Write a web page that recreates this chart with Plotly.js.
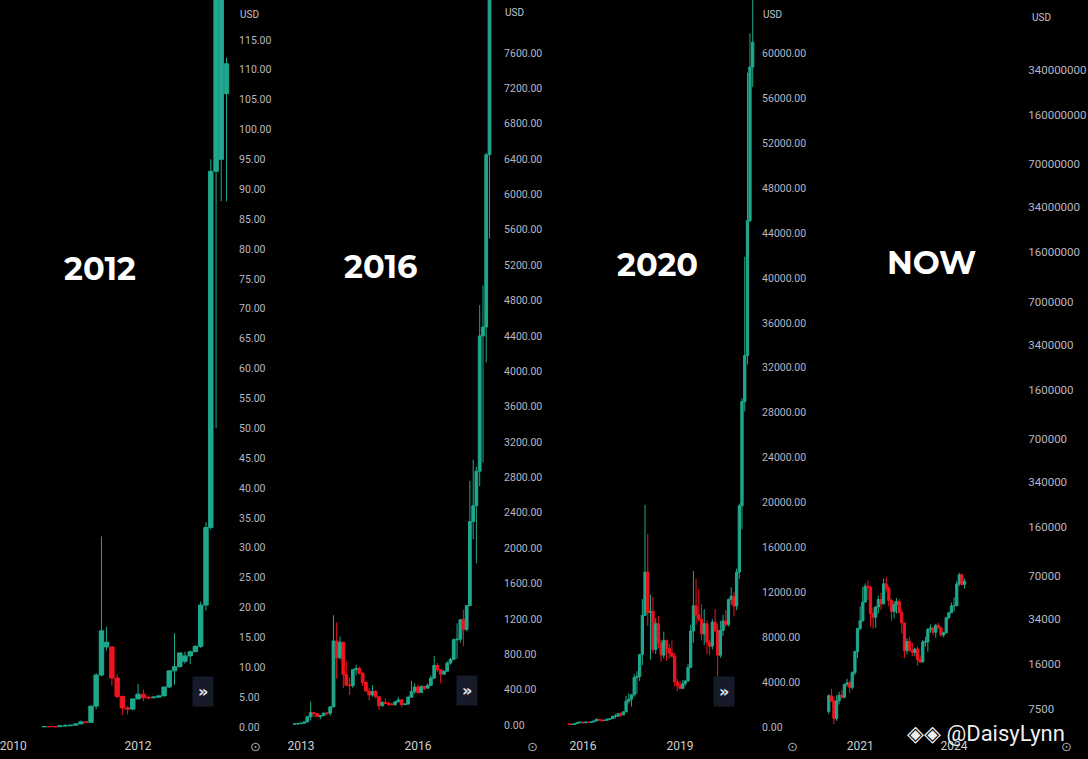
<!DOCTYPE html>
<html>
<head>
<meta charset="utf-8">
<script src="https://cdn.plot.ly/plotly-3.0.1.min.js"></script>
<style>
html,body{margin:0;padding:0;background:#000;}
#chart{width:1088px;height:759px;}
</style>
</head>
<body>
<div id="chart"></div>
<script>
// ---------- DATA ----------
// Panel 1: "2012" cycle (monthly candles, USD)
const dates1 = ["2010-07-01","2010-08-01","2010-09-01","2010-10-01","2010-11-01","2010-12-01",
"2011-01-01","2011-02-01","2011-03-01","2011-04-01","2011-05-01","2011-06-01","2011-07-01","2011-08-01","2011-09-01","2011-10-01","2011-11-01","2011-12-01",
"2012-01-01","2012-02-01","2012-03-01","2012-04-01","2012-05-01","2012-06-01","2012-07-01","2012-08-01","2012-09-01","2012-10-01","2012-11-01","2012-12-01",
"2013-01-01","2013-02-01","2013-03-01","2013-04-01","2013-05-01","2013-06-01"];
const open1  = [0.05,0.07,0.06,0.06,0.19,0.21, 0.30,0.52,0.86,0.78,3.5,8.7,13.4,13.4,8.2,5.1,3.2,3.0, 4.7,5.5,4.9,4.9,5.0,5.2,6.7,9.4,10.1,11.0,11.9,12.6, 13.5,20.4,33.4,93,95,106];
const high1  = [0.09,0.07,0.07,0.20,0.50,0.30, 0.52,1.10,0.95,3.5,9.0,31.9,16.8,13.5,8.8,5.3,3.5,4.8, 7.2,6.3,5.3,5.2,5.2,6.7,9.5,15.7,12.5,12.6,12.8,13.7, 21.0,34.3,95,266,140,112];
const low1   = [0.05,0.06,0.06,0.06,0.19,0.20, 0.30,0.52,0.70,0.75,3.0,8.5,12.8,6.9,4.8,2.0,2.1,2.8, 4.7,4.3,4.6,4.8,4.9,5.2,6.5,7.1,10.0,10.6,10.5,12.6, 13.2,19.5,33.0,50,88,88];
const close1 = [0.07,0.06,0.06,0.19,0.21,0.30, 0.52,0.86,0.78,3.5,8.7,16.1,14.2,8.2,5.1,3.2,3.0,4.7, 5.5,4.9,4.9,5.0,5.2,6.7,9.4,10.1,12.4,11.9,12.6,13.5, 20.4,33.4,93,139,129,111];
const xTicks1 = ["2010-01-01","2012-01-01"];
const xLabels1 = ["2010","2012"];
const yTicks1 = [0,5,10,15,20,25,30,35,40,45,50,55,60,65,70,75,80,85,90,95,100,105,110,115];

// Panel 2: "2016" cycle
const dates2 = ["2012-11-01","2012-12-01",
"2013-01-01","2013-02-01","2013-03-01","2013-04-01","2013-05-01","2013-06-01","2013-07-01","2013-08-01","2013-09-01","2013-10-01","2013-11-01","2013-12-01",
"2014-01-01","2014-02-01","2014-03-01","2014-04-01","2014-05-01","2014-06-01","2014-07-01","2014-08-01","2014-09-01","2014-10-01","2014-11-01","2014-12-01",
"2015-01-01","2015-02-01","2015-03-01","2015-04-01","2015-05-01","2015-06-01","2015-07-01","2015-08-01","2015-09-01","2015-10-01","2015-11-01","2015-12-01",
"2016-01-01","2016-02-01","2016-03-01","2016-04-01","2016-05-01","2016-06-01","2016-07-01","2016-08-01","2016-09-01","2016-10-01","2016-11-01","2016-12-01",
"2017-01-01","2017-02-01","2017-03-01","2017-04-01","2017-05-01","2017-06-01","2017-07-01","2017-08-01","2017-09-01","2017-10-01","2017-11-01"];
const open2  = [11,12.5, 13.5,20.4,33.4,93,139,129,97,106,135,133,204,950, 760,935,570,450,445,627,640,585,480,385,340,378, 320,217,254,244,236,230,263,284,230,236,314,377, 430,368,437,416,448,531,673,624,575,609,700,742, 963,970,1190,1080,1350,2300,2480,2870,4400,4500,6450];
const high2  = [12.6,13.7, 21,34,95,266,140,130,110,135,145,215,1240,1160, 1000,940,720,540,630,680,660,600,500,420,450,400, 320,270,300,260,248,270,318,285,245,330,500,470, 460,445,440,470,560,780,700,630,615,720,760,980, 1150,1200,1300,1350,2760,3000,2920,4750,4970,6470,11400];
const low2   = [10.5,12.6, 13.2,19.5,33,50,85,88,65,102,110,105,200,520, 740,420,440,340,420,560,570,440,370,280,320,300, 170,210,235,215,228,218,255,200,225,236,310,350, 350,365,395,414,440,520,600,470,570,604,680,740, 750,930,890,1060,1340,2100,1830,2700,2970,4100,5500];
const close2 = [12.5,13.5, 20.4,33.4,93,139,129,97,106,135,133,204,950,760, 935,570,450,445,627,640,585,480,385,340,378,320, 217,254,244,236,230,263,284,230,236,314,377,430, 368,437,416,448,531,673,624,575,609,700,742,963, 970,1190,1080,1350,2300,2480,2870,4400,4500,6450,9950];
const xTicks2 = ["2013-01-01","2016-01-01"];
const xLabels2 = ["2013","2016"];
const yTicks2 = [0,400,800,1200,1600,2000,2400,2800,3200,3600,4000,4400,4800,5200,5600,6000,6400,6800,7200,7600];

// Panel 3: "2020" cycle
const dates3 = ["2015-08-01","2015-09-01","2015-10-01","2015-11-01","2015-12-01",
"2016-01-01","2016-02-01","2016-03-01","2016-04-01","2016-05-01","2016-06-01","2016-07-01","2016-08-01","2016-09-01","2016-10-01","2016-11-01","2016-12-01",
"2017-01-01","2017-02-01","2017-03-01","2017-04-01","2017-05-01","2017-06-01","2017-07-01","2017-08-01","2017-09-01","2017-10-01","2017-11-01","2017-12-01",
"2018-01-01","2018-02-01","2018-03-01","2018-04-01","2018-05-01","2018-06-01","2018-07-01","2018-08-01","2018-09-01","2018-10-01","2018-11-01","2018-12-01",
"2019-01-01","2019-02-01","2019-03-01","2019-04-01","2019-05-01","2019-06-01","2019-07-01","2019-08-01","2019-09-01","2019-10-01","2019-11-01","2019-12-01",
"2020-01-01","2020-02-01","2020-03-01","2020-04-01","2020-05-01","2020-06-01","2020-07-01","2020-08-01","2020-09-01","2020-10-01","2020-11-01","2020-12-01",
"2021-01-01","2021-02-01","2021-03-01","2021-04-01"];
const open3  = [284,230,236,314,377, 430,368,437,416,448,531,673,624,575,609,700,742, 963,970,1190,1080,1350,2300,2480,2870,4400,4500,6450,9950,
13800,10200,10300,6900,9200,7500,6400,7700,7000,6600,6300,4000, 3700,3450,3850,4100,5300,8550,10800,10000,9600,8300,9200,7550,
7200,9350,8600,6400,8600,9450,9140,11350,11650,10780,13800,19700, 29000,33100,45100,58800];
const high3  = [285,245,330,500,470, 460,445,440,470,560,780,700,630,615,720,760,980, 1150,1200,1300,1350,2760,3000,2920,4750,4970,6470,11400,19800,
17200,11800,11600,9700,9900,7800,8500,7800,7400,7700,6600,4300, 4100,4200,4150,5600,9100,13900,13200,12300,10950,10500,9500,7750,
9600,10500,9200,9450,10000,10400,11450,12450,12050,14100,19900,29300, 41900,58300,61800,64900];
const low3   = [200,225,236,310,350, 350,365,395,414,440,520,600,470,570,604,680,740, 750,930,890,1060,1340,2100,1830,2700,2970,4100,5500,9900,
9000,6000,6600,6500,7000,5800,6100,5900,6100,6200,3600,3200, 3350,3400,3700,4060,5300,7500,9100,9400,7700,7300,6500,6400,
6900,8450,3800,6150,8100,8900,8950,10900,9850,10400,13200,17600, 28100,32300,45000,57000];
const close3 = [230,236,314,377,430, 368,437,416,448,531,673,624,575,609,700,742,963, 970,1190,1080,1350,2300,2480,2870,4400,4500,6450,9950,13800,
10200,10300,6900,9200,7500,6400,7700,7000,6600,6300,4000,3700, 3450,3850,4100,5300,8550,10800,10000,9600,8300,9200,7550,7200,
9350,8600,6400,8600,9450,9140,11350,11650,10780,13800,19700,29000, 33100,45100,58800,61000];
const xTicks3 = ["2016-01-01","2019-01-01"];
const xLabels3 = ["2016","2019"];
const yTicks3 = [0,4000,8000,12000,16000,20000,24000,28000,32000,36000,40000,44000,48000,52000,56000,60000];

// Panel 4: "NOW" (log scale)
const dates4 = ["2020-01-01","2020-02-01","2020-03-01","2020-04-01","2020-05-01","2020-06-01","2020-07-01","2020-08-01","2020-09-01","2020-10-01","2020-11-01","2020-12-01",
"2021-01-01","2021-02-01","2021-03-01","2021-04-01","2021-05-01","2021-06-01","2021-07-01","2021-08-01","2021-09-01","2021-10-01","2021-11-01","2021-12-01",
"2022-01-01","2022-02-01","2022-03-01","2022-04-01","2022-05-01","2022-06-01","2022-07-01","2022-08-01","2022-09-01","2022-10-01","2022-11-01","2022-12-01",
"2023-01-01","2023-02-01","2023-03-01","2023-04-01","2023-05-01","2023-06-01","2023-07-01","2023-08-01","2023-09-01","2023-10-01","2023-11-01","2023-12-01",
"2024-01-01","2024-02-01","2024-03-01","2024-04-01","2024-05-01"];
const open4  = [7200,9350,8600,6400,8600,9450,9140,11350,11650,10780,13800,19700, 29000,33100,45100,58800,57700,37300,35000,41500,47100,43800,61300,57000,
46300,38500,43200,45500,37700,31800,19900,23300,20000,19400,20500,17200, 16500,23100,23150,28500,29250,27200,30500,29200,25950,26970,34650,37700, 42300,42600,61200,71300,60600];
const high4  = [9600,10500,9200,9450,10000,10400,11450,12450,12050,14100,19900,29300, 41900,58300,61800,64900,59600,41300,42300,50500,52900,67000,69000,59100,
47900,45800,48200,47400,40000,31900,24600,25200,22800,21000,21500,18400, 23900,25200,29200,31000,29800,31400,31800,30200,27500,35200,38400,44700, 48900,64000,73800,72800,67000];
const low4   = [6900,8450,5800,6150,8100,8900,8950,10900,9850,10400,13200,17600, 28100,32300,45000,47000,30000,28800,29300,37300,39600,43300,53300,42000,
32900,34300,37200,37700,26700,17600,18800,19600,18200,18200,15500,16300, 16500,21400,19600,26900,25800,24800,28900,25200,24900,26600,34100,37600, 38500,41900,59000,59600,56500];
const close4 = [9350,8600,6400,8600,9450,9140,11350,11650,10780,13800,19700,29000, 33100,45100,58800,57700,37300,35000,41500,47100,43800,61300,57000,46300,
38500,43200,45500,37700,31800,19900,23300,20000,19400,20500,17200,16500, 23100,23150,28500,29250,27200,30500,29200,25950,26970,34650,37700,42300, 42600,61200,71300,60600,64000];
const xTicks4 = ["2021-01-01","2024-01-01"];
const xLabels4 = ["2021","2024"];
const yTicks4 = [7500,16000,34000,70000,160000,340000,700000,1600000,3400000,7000000,16000000,34000000,70000000,160000000,340000000];

const panelTitles = ["2012","2016","2020","NOW"];
const currency = "USD";
const watermark = "@DaisyLynn";

// ---------- STYLE / LAYOUT ----------
const W = 1088, H = 759;
const GREEN = "#1fa88c", RED = "#f0141e";
const fx = px => px / W;
const fy = py => 1 - py / H;
const yDom = [22 / H, 1];

function candle(x, o, h, l, c, xa, ya) {
  return {
    type: "candlestick", x: x, open: o, high: h, low: l, close: c,
    xaxis: xa, yaxis: ya, hoverinfo: "skip", showlegend: false,
    increasing: {line: {color: GREEN, width: 1}, fillcolor: GREEN},
    decreasing: {line: {color: RED, width: 1}, fillcolor: RED},
    whiskerwidth: 0
  };
}

const traces = [
  candle(dates1, open1, high1, low1, close1, "x", "y"),
  candle(dates2, open2, high2, low2, close2, "x2", "y2"),
  candle(dates3, open3, high3, low3, close3, "x3", "y3"),
  candle(dates4, open4, high4, low4, close4, "x4", "y4")
];

const tickFontY = {family: "Roboto, sans-serif", size: 10.5, color: "#b9b6c2"};
const tickFontX = {family: "Roboto, sans-serif", size: 12, color: "#cfcfcf"};

function xAxis(domainPx, range, tv, tt, anchor) {
  return {
    domain: [fx(domainPx[0]), fx(domainPx[1])], anchor: anchor, type: "date",
    range: range, tickmode: "array", tickvals: tv, ticktext: tt,
    showgrid: false, zeroline: false, showline: false, ticks: "",
    ticklabeloverflow: "allow",
    tickfont: tickFontX, rangeslider: {visible: false}, fixedrange: true
  };
}
function yAxis(range, tv, anchor, fmt, font, type, tl) {
  return {
    domain: yDom, anchor: anchor, side: "right", type: type || "linear",
    range: range, tickmode: "array", tickvals: tv, tickformat: fmt,
    showgrid: false, zeroline: false, showline: false,
    ticks: "outside", ticklen: tl || 4, tickcolor: "rgba(0,0,0,0)",
    ticklabeloverflow: "allow",
    tickfont: font, fixedrange: true
  };
}

const annotations = [];
const titlePos = [[100, 268], [380, 266], [657, 264], [931, 262]];
panelTitles.forEach((t, i) => annotations.push({
  xref: "paper", yref: "paper", x: fx(titlePos[i][0]), y: fy(titlePos[i][1]),
  xanchor: "center", yanchor: "middle", showarrow: false, text: t,
  font: {family: "Montserrat, Inter, Lato, sans-serif", size: 32, weight: 700, color: "#ffffff"}
}));
const usdPos = [[238, 14], [503, 13], [761, 14], [1030, 18]];
usdPos.forEach(p => annotations.push({
  xref: "paper", yref: "paper", x: fx(p[0]), y: fy(p[1]), xanchor: "left", yanchor: "middle",
  showarrow: false, text: currency,
  font: {family: "Roboto, sans-serif", size: 10, color: "#c4c2cc"}
}));
const btnPos = [[203, 691], [467, 690], [724, 691]];
btnPos.forEach(p => annotations.push({
  xref: "paper", yref: "paper", x: fx(p[0]), y: fy(p[1]), xanchor: "center", yanchor: "middle",
  showarrow: false, text: "»", bgcolor: "#171a28", borderpad: 5,
  font: {family: "DejaVu Sans, sans-serif", size: 16, color: "#e8e8f0", weight: 700}
}));
const iconPos = [[255, 746], [532, 746], [792, 746], [1066, 746]];
iconPos.forEach(p => annotations.push({
  xref: "paper", yref: "paper", x: fx(p[0]), y: fy(p[1]), xanchor: "center", yanchor: "middle",
  showarrow: false, text: "⊙",
  font: {family: "DejaVu Sans, sans-serif", size: 13, color: "#a8a8b0"}
}));
annotations.push({
  xref: "paper", yref: "paper", x: fx(905), y: fy(733), xanchor: "left", yanchor: "middle",
  showarrow: false, text: "◈◈ " + watermark,
  font: {family: "Roboto, sans-serif", size: 22, color: "rgba(255,255,255,0.95)"}
});

const layout = {
  width: W, height: H,
  margin: {l: 0, r: 0, t: 0, b: 0},
  paper_bgcolor: "#000000", plot_bgcolor: "#000000",
  showlegend: false, boxgap: 0.08, boxgroupgap: 0, hovermode: false,
  xaxis:  xAxis([0, 232],   ["2009-10-16", "2013-07-03"], xTicks1, xLabels1, "y"),
  xaxis2: xAxis([280, 497], ["2012-06-18", "2018-01-10"], xTicks2, xLabels2, "y2"),
  xaxis3: xAxis([556, 755], ["2015-03-01", "2021-04-27"], xTicks3, xLabels3, "y3"),
  xaxis4: xAxis([823, 1023], ["2019-10-26", "2026-03-14"], xTicks4, xLabels4, "y4"),
  yaxis:  yAxis([-1.67, 121.67], yTicks1, "x", ".2f", tickFontY),
  yaxis2: yAxis([-136, 8199], yTicks2, "x2", ".2f", tickFontY),
  yaxis3: yAxis([-891, 64766], yTicks3, "x3", ".2f", tickFontY),
  yaxis4: yAxis([3.671, 9.043], yTicks4, "x4", "d",
                {family: "Roboto, sans-serif", size: 11.5, color: "#b9b6c2"}, "log", 2),
  annotations: annotations
};

Plotly.newPlot("chart", traces, layout, {displayModeBar: false, staticPlot: true});
</script>
</body>
</html>
